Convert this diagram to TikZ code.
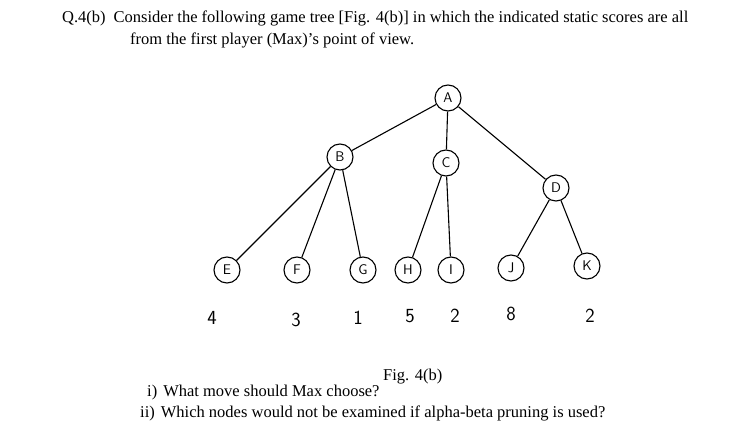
\documentclass[tikz,border=0pt]{standalone}
\usepackage{fontspec}
\setmainfont{Liberation Serif}
\begin{document}
\begin{tikzpicture}[x=1pt,y=-1pt,
  gnode/.style={circle,draw,line width=1.1pt,minimum size=26pt,inner sep=0pt,font=\sffamily\fontsize{14}{16}\selectfont},
  score/.style={font=\sffamily\fontsize{20}{22}\selectfont},
  edge/.style={line width=1.1pt},
  txt/.style={anchor=west,inner sep=0pt,font=\fontsize{16.5}{18}\selectfont}]
\useasboundingbox (0,0) rectangle (742,433);
\fill[white] (0,0) rectangle (742,433);
\node[txt] (t1) at (62,18) {Q.4(b)\hspace{8pt}Consider the following game tree [Fig. 4(b)] in which the indicated static scores are all};
\node[txt] (t2) at (130,40) {from the first player (Max)'s point of view.};
\node (A) [gnode] at (448,98) {A};
\node (B) [gnode] at (340,157) {B};
\node (C) [gnode] at (446,163) {C};
\node (D) [gnode] at (556,188) {D};
\node (E) [gnode] at (227,270) {E};
\node (F) [gnode] at (297,270) {F};
\node (G) [gnode] at (363,270) {G};
\node (H) [gnode] at (408,270) {H};
\node (I) [gnode] at (451,270) {I};
\node (J) [gnode] at (511,268) {J};
\node (K) [gnode] at (587,266) {K};
\foreach \a/\b in {A/B,A/C,A/D,B/E,B/F,B/G,C/H,C/I,D/J,D/K}
  \draw[edge] (\a) -- (\b);
\node[score] (sE) at (212,318) {4};
\node[score] (sF) at (296,320) {3};
\node[score] (sG) at (358,318) {1};
\node[score] (sH) at (410,316) {5};
\node[score] (sI) at (455,316) {2};
\node[score] (sJ) at (511,314) {8};
\node[score] (sK) at (590,316) {2};
\node[txt] (fig) at (383,377) {Fig. 4(b)};
\node[txt] (q1) at (147,393) {i)\hspace{6pt}What move should Max choose?};
\node[txt] (q2) at (140,413) {ii)\hspace{6pt}Which nodes would not be examined if alpha-beta pruning is used?};
\end{tikzpicture}
\end{document}
